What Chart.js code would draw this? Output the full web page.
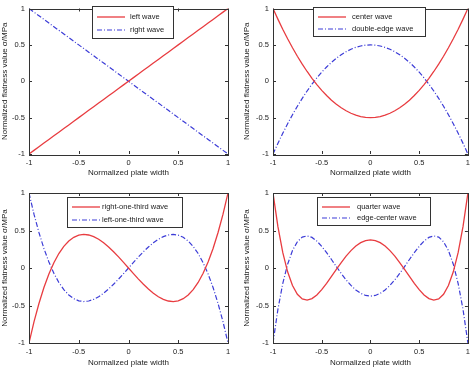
<!DOCTYPE html>
<html>
<head>
<meta charset="utf-8">
<script src="https://cdn.jsdelivr.net/npm/chart.js@4"></script>
<style>
  body { margin: 0; background: #fff; }
  #wrap { position: relative; width: 474px; height: 368px; }
  .panel { position: absolute; width: 237px; height: 184px; }
</style>
</head>
<body>
<div id="wrap">
  <div class="panel" style="left:0;top:0"><canvas id="c1"></canvas></div>
  <div class="panel" style="left:237px;top:0"><canvas id="c2"></canvas></div>
  <div class="panel" style="left:0;top:184px"><canvas id="c3"></canvas></div>
  <div class="panel" style="left:237px;top:184px"><canvas id="c4"></canvas></div>
</div>
<script>
// x positions (normalized plate width)
const plateWidth = [-1, -0.95, -0.9, -0.85, -0.8, -0.75, -0.7, -0.65, -0.6, -0.55, -0.5, -0.45, -0.4, -0.35, -0.3, -0.25, -0.2, -0.15, -0.1, -0.05, 0,
  0.05, 0.1, 0.15, 0.2, 0.25, 0.3, 0.35, 0.4, 0.45, 0.5, 0.55, 0.6, 0.65, 0.7, 0.75, 0.8, 0.85, 0.9, 0.95, 1];

// tick labels
const tickValues = [-1, -0.5, 0, 0.5, 1];

// panel 1
const leftWave = [-1, -0.95, -0.9, -0.85, -0.8, -0.75, -0.7, -0.65, -0.6, -0.55, -0.5, -0.45, -0.4, -0.35, -0.3, -0.25, -0.2, -0.15, -0.1, -0.05, 0,
  0.05, 0.1, 0.15, 0.2, 0.25, 0.3, 0.35, 0.4, 0.45, 0.5, 0.55, 0.6, 0.65, 0.7, 0.75, 0.8, 0.85, 0.9, 0.95, 1];
const rightWave = [1, 0.95, 0.9, 0.85, 0.8, 0.75, 0.7, 0.65, 0.6, 0.55, 0.5, 0.45, 0.4, 0.35, 0.3, 0.25, 0.2, 0.15, 0.1, 0.05, 0,
  -0.05, -0.1, -0.15, -0.2, -0.25, -0.3, -0.35, -0.4, -0.45, -0.5, -0.55, -0.6, -0.65, -0.7, -0.75, -0.8, -0.85, -0.9, -0.95, -1];

// panel 2
const centerWave = [1, 0.854, 0.715, 0.584, 0.46, 0.344, 0.235, 0.134, 0.04, -0.046, -0.125, -0.196, -0.26, -0.316, -0.365, -0.406, -0.44, -0.466, -0.485, -0.496, -0.5,
  -0.496, -0.485, -0.466, -0.44, -0.406, -0.365, -0.316, -0.26, -0.196, -0.125, -0.046, 0.04, 0.134, 0.235, 0.344, 0.46, 0.584, 0.715, 0.854, 1];
const doubleEdgeWave = [-1, -0.854, -0.715, -0.584, -0.46, -0.344, -0.235, -0.134, -0.04, 0.046, 0.125, 0.196, 0.26, 0.316, 0.365, 0.406, 0.44, 0.466, 0.485, 0.496, 0.5,
  0.496, 0.485, 0.466, 0.44, 0.406, 0.365, 0.316, 0.26, 0.196, 0.125, 0.046, -0.04, -0.134, -0.235, -0.344, -0.46, -0.584, -0.715, -0.854, -1];

// panel 3
const rightOneThirdWave = [-1, -0.718, -0.473, -0.26, -0.08, 0.07, 0.193, 0.288, 0.36, 0.409, 0.438, 0.447, 0.44, 0.418, 0.383, 0.336, 0.28, 0.217, 0.148, 0.075, 0,
  -0.075, -0.148, -0.217, -0.28, -0.336, -0.383, -0.418, -0.44, -0.447, -0.438, -0.409, -0.36, -0.288, -0.193, -0.07, 0.08, 0.26, 0.473, 0.718, 1];
const leftOneThirdWave = [1, 0.718, 0.473, 0.26, 0.08, -0.07, -0.193, -0.288, -0.36, -0.409, -0.438, -0.447, -0.44, -0.418, -0.383, -0.336, -0.28, -0.217, -0.148, -0.075, 0,
  0.075, 0.148, 0.217, 0.28, 0.336, 0.383, 0.418, 0.44, 0.447, 0.438, 0.409, 0.36, 0.288, 0.193, 0.07, -0.08, -0.26, -0.473, -0.718, -1];

// panel 4
const quarterWave = [1, 0.554, 0.208, -0.051, -0.233, -0.35, -0.412, -0.428, -0.408, -0.359, -0.289, -0.205, -0.113, -0.019, 0.073, 0.158, 0.232, 0.293, 0.338, 0.366, 0.375,
  0.366, 0.338, 0.293, 0.232, 0.158, 0.073, -0.019, -0.113, -0.205, -0.289, -0.359, -0.408, -0.428, -0.412, -0.35, -0.233, -0.051, 0.208, 0.554, 1];
const edgeCenterWave = [-1, -0.554, -0.208, 0.051, 0.233, 0.35, 0.412, 0.428, 0.408, 0.359, 0.289, 0.205, 0.113, 0.019, -0.073, -0.158, -0.232, -0.293, -0.338, -0.366, -0.375,
  -0.366, -0.338, -0.293, -0.232, -0.158, -0.073, 0.019, 0.113, 0.205, 0.289, 0.359, 0.408, 0.428, 0.412, 0.35, 0.233, 0.051, -0.208, -0.554, -1];

const RED = 'rgb(232,60,64)';
const BLUE = 'rgb(60,60,215)';
const FONT = "'Liberation Sans', Arial, sans-serif";

// frame with inward ticks on all four sides, like matlab
const framePlugin = {
  id: 'frame',
  afterDatasetsDraw(chart) {
    const { ctx, chartArea: a, scales } = chart;
    ctx.save();
    ctx.strokeStyle = '#333';
    ctx.lineWidth = 1;
    ctx.strokeRect(Math.round(a.left) + 0.5, Math.round(a.top) + 0.5, Math.round(a.right - a.left), Math.round(a.bottom - a.top));
    ctx.beginPath();
    tickValues.forEach(v => {
      const x = Math.round(scales.x.getPixelForValue(v)) + 0.5;
      ctx.moveTo(x, a.bottom); ctx.lineTo(x, a.bottom - 3);
      ctx.moveTo(x, a.top); ctx.lineTo(x, a.top + 3);
      const y = Math.round(scales.y.getPixelForValue(v)) + 0.5;
      ctx.moveTo(a.left, y); ctx.lineTo(a.left + 3, y);
      ctx.moveTo(a.right, y); ctx.lineTo(a.right - 3, y);
    });
    ctx.stroke();
    ctx.restore();
  }
};

// boxed legend drawn inside the plot
const boxLegendPlugin = {
  id: 'boxLegend',
  afterDraw(chart, args, opts) {
    const { ctx } = chart;
    const b = opts;
    ctx.save();
    ctx.fillStyle = '#fff';
    ctx.fillRect(b.x, b.y, b.w, b.h);
    ctx.strokeStyle = '#333';
    ctx.lineWidth = 1;
    ctx.strokeRect(b.x + 0.5, b.y + 0.5, b.w, b.h);
    ctx.font = '7.5px ' + FONT;
    ctx.textBaseline = 'middle';
    chart.data.datasets.forEach((ds, i) => {
      const y = Math.round(b.y + b.h * (i === 0 ? 0.34 : 0.76));
      ctx.strokeStyle = ds.borderColor;
      ctx.lineWidth = ds.borderWidth;
      ctx.setLineDash(ds.borderDash || []);
      ctx.beginPath();
      ctx.moveTo(b.x + 5, y);
      ctx.lineTo(b.x + 33, y);
      ctx.stroke();
      ctx.setLineDash([]);
      ctx.fillStyle = '#222';
      ctx.fillText(ds.label, b.x + b.textX, y);
    });
    ctx.restore();
  }
};

function makeChart(id, labels, data, layout) {
  const ctx = document.getElementById(id).getContext('2d');
  return new Chart(ctx, {
    type: 'line',
    data: {
      datasets: [{
        label: labels[0],
        data: plateWidth.map((x, i) => ({ x: x, y: data[0][i] })),
        borderColor: RED,
        borderWidth: 1.3,
        pointRadius: 0,
        fill: false,
      }, {
        label: labels[1],
        data: plateWidth.map((x, i) => ({ x: x, y: data[1][i] })),
        borderColor: BLUE,
        borderWidth: 1.2,
        borderDash: [5, 2, 1, 2],
        pointRadius: 0,
        fill: false,
      }],
    },
    options: {
      responsive: true,
      maintainAspectRatio: false,
      animation: false,
      layout: { padding: { top: layout.top, right: layout.right, left: 0, bottom: 0 } },
      plugins: {
        legend: { display: false },
        tooltip: { enabled: false },
        boxLegend: layout.legend,
      },
      scales: {
        x: {
          type: 'linear',
          min: -1, max: 1,
          afterFit(scale) { scale.height = layout.xh; },
          afterBuildTicks(scale) { scale.ticks = tickValues.map(v => ({ value: v })); },
          grid: { display: false, drawTicks: false },
          border: { display: false },
          ticks: { padding: 4, color: '#222', font: { family: FONT, size: 7.5 }, maxRotation: 0, callback: v => String(v) },
          title: {
            display: true,
            text: 'Normalized plate width',
            color: '#222',
            font: { family: FONT, size: 8, lineHeight: 1 },
            padding: { top: 0, bottom: layout.xtpad },
          },
        },
        y: {
          min: -1, max: 1,
          afterFit(scale) { scale.width = layout.yw; },
          afterBuildTicks(scale) { scale.ticks = tickValues.map(v => ({ value: v })); },
          grid: { display: false, drawTicks: false },
          border: { display: false },
          ticks: { padding: 4, color: '#222', font: { family: FONT, size: 7.5 }, callback: v => String(v) },
          title: {
            display: true,
            text: 'Normalized flatness value σ/MPa',
            color: '#222',
            font: { family: FONT, size: 8, lineHeight: 1 },
            padding: { top: layout.ytpad, bottom: 0 },
          },
        },
      },
    },
    plugins: [framePlugin, boxLegendPlugin],
  });
}

makeChart('c1', ['left wave', 'right wave'], [leftWave, rightWave],
  { top: 3, right: 9, yw: 29, xh: 30, xtpad: 7, ytpad: 1, legend: { x: 92, y: 6, w: 81, h: 32, textX: 38 } });
makeChart('c2', ['center wave', 'double-edge wave'], [centerWave, doubleEdgeWave],
  { top: 3, right: 3, yw: 36, xh: 30, xtpad: 7, ytpad: 6, legend: { x: 76, y: 7, w: 112, h: 29, textX: 39 } });
makeChart('c3', ['right-one-third wave', 'left-one-third wave'], [rightOneThirdWave, leftOneThirdWave],
  { top: 9, right: 9, yw: 29, xh: 25, xtpad: 1, ytpad: 1, legend: { x: 67, y: 13, w: 115, h: 30, textX: 35 } });
makeChart('c4', ['quarter wave', 'edge-center wave'], [quarterWave, edgeCenterWave],
  { top: 9, right: 3, yw: 36, xh: 25, xtpad: 1, ytpad: 6, legend: { x: 80, y: 13, w: 113, h: 28, textX: 40 } });
</script>
</body>
</html>
